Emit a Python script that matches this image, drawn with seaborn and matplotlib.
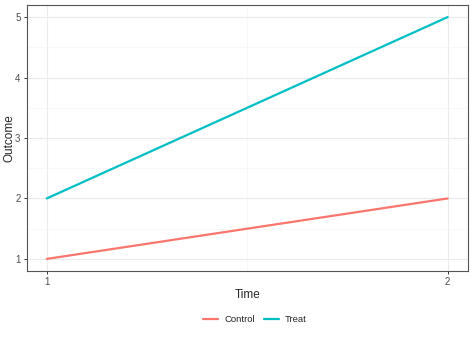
import matplotlib
matplotlib.use("Agg")
import matplotlib.pyplot as plt
from matplotlib.ticker import FixedLocator
from matplotlib.lines import Line2D
import seaborn as sns
import pandas as pd

groups = ["Control", "Control", "Treat", "Treat"]
time = [1, 2, 1, 2]
outcome = [1, 2, 2, 5]
palette = {"Control": "#F8766D", "Treat": "#00BFC4"}

df = pd.DataFrame({"Time": time, "Outcome": outcome, "Group": groups})

sns.set_style("white")
plt.rcParams['font.family'] = ['Liberation Sans', 'DejaVu Sans']

fig = plt.figure(figsize=(4.74, 3.38), dpi=100)
ax = fig.add_axes([26.7/474, (338-271)/338, 441/474, 266/338])

sns.lineplot(data=df, x="Time", y="Outcome", hue="Group", palette=palette,
             linewidth=1.6, ax=ax, legend=False, zorder=3)

ax.set_xlim(0.95, 2.05)
ax.set_ylim(0.8, 5.2)
ax.xaxis.set_major_locator(FixedLocator([1, 2]))
ax.xaxis.set_minor_locator(FixedLocator([1.5]))
ax.yaxis.set_major_locator(FixedLocator([1, 2, 3, 4, 5]))
ax.yaxis.set_minor_locator(FixedLocator([1.5, 2.5, 3.5, 4.5]))
ax.grid(True, which="major", color="#EBEBEB", linewidth=0.8)
ax.grid(True, which="minor", color="#F5F5F5", linewidth=0.5)
ax.set_axisbelow(True)
for s in ax.spines.values():
    s.set_color("#555555")
    s.set_linewidth(0.8)
ax.tick_params(axis="both", which="major", length=2.5, width=0.7, color="#333333",
               labelsize=7, labelcolor="#4D4D4D", pad=2, left=True, bottom=True)
ax.tick_params(axis="both", which="minor", length=0)
ax.set_xlabel("Time", fontsize=8.5, labelpad=1.5)
ax.set_ylabel("Outcome", fontsize=8.5)
ax.yaxis.set_label_coords(-0.026, 0.5)

handles = [Line2D([0], [0], color=palette[g], lw=1.6) for g in ["Control", "Treat"]]
fig.legend(handles, ["Control", "Treat"], loc="center", bbox_to_anchor=(255/474, 1 - 320/338),
           ncol=2, frameon=False, fontsize=6.8, handlelength=1.6, columnspacing=1.0,
           handletextpad=0.6)

fig.savefig("out.png", dpi=100)
